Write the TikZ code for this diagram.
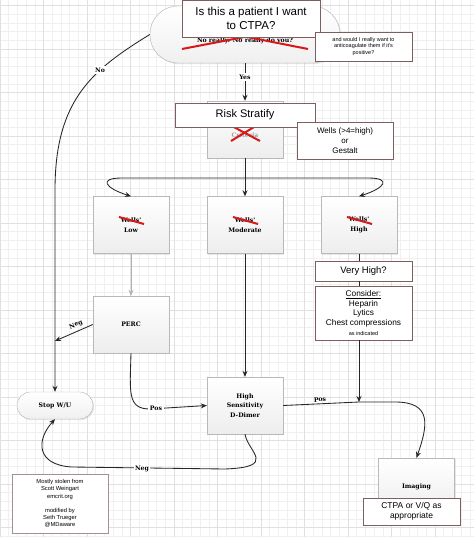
\documentclass[tikz,border=0pt]{standalone}
\usepackage{fontspec}
\setmainfont{Liberation Sans}
\newfontfamily\lblserif{DejaVu Serif}
\usetikzlibrary{arrows.meta,shadows,calc}
\definecolor{bord}{RGB}{125,95,95}
\definecolor{strikered}{RGB}{215,25,25}
\newcommand\lblfnt{\fontsize{6.2}{9.5}\selectfont\lblserif\bfseries}
\begin{document}
\begin{tikzpicture}[x=1pt,y=-1pt,
  gbox/.style={draw=gray!55, top color=white, bottom color=gray!14, minimum width=76pt, minimum height=57pt, inner sep=0pt, align=center, font=\lblfnt, drop shadow={opacity=0.18,shadow xshift=1.2pt,shadow yshift=-1.2pt}},
  pillbox/.style={draw=gray!60, top color=white, bottom color=gray!12, inner sep=0pt, align=center, font=\lblfnt, drop shadow={opacity=0.18,shadow xshift=1.2pt,shadow yshift=-1.2pt}},
  wbox/.style={draw=bord, fill=white, line width=0.8pt, align=center, inner sep=1pt},
  lab/.style={font=\lblfnt, inner sep=1.5pt},
  conn/.style={line width=0.85pt, draw=black!85, -{Stealth[length=6pt,width=5pt]}},
  plain/.style={line width=0.85pt, draw=black!85},
  redx/.style={draw=strikered, line width=2pt}
]
\useasboundingbox (0,0) rectangle (474,537);
\fill[white] (0,0) rectangle (474,537);
% grid
\foreach \i in {0,...,54} \draw[gray!12, line width=0.5pt] ({\i*8.7},0) -- ({\i*8.7},537);
\foreach \i in {0,...,61} \draw[gray!12, line width=0.5pt] (0,{5.5+\i*8.7}) -- (474,{5.5+\i*8.7});
\foreach \i in {0,...,10} \draw[gray!24, line width=0.5pt] ({\i*43.5},0) -- ({\i*43.5},537);
\foreach \i in {0,...,12} \draw[gray!24, line width=0.5pt] (0,{5.5+\i*43.5}) -- (474,{5.5+\i*43.5});

% top terminator
\node[pillbox, rounded corners=28pt, minimum width=190pt, minimum height=57pt] (pill) at (245,34.5) {};
\node[lab] (pilltxt) at (245,41) {No really. No really do you?};
\draw[redx] (182,49) -- (247,36.5);
\draw[redx] (237,35) -- (308,49);
\node[wbox, minimum width=138pt, minimum height=37pt, font=\fontsize{11.5}{13.5}\selectfont] (title) at (251,18.5) {Is this a patient I want\\to CTPA?};
\node[wbox, minimum width=97pt, minimum height=29pt, font=\fontsize{5.5}{6.8}\selectfont] (note) at (363.5,46.5) {and would I really want to\\anticoagulate them if it's\\positive?};

% risk stratify
\node[gbox] (crit) at (245,129.5) {};
\node[lab, text=gray!75] (crittxt) at (245,135) {Criteria};
\draw[redx] (230,125) -- (260,141);
\draw[redx] (231,141) -- (259,124);
\node[wbox, minimum width=140pt, minimum height=24pt, font=\fontsize{11}{13}\selectfont] (risk) at (245,115) {Risk Stratify};
\node[wbox, minimum width=96pt, minimum height=37pt, font=\fontsize{8}{10}\selectfont] (wells) at (345,140.5) {Wells (>4=high)\\or\\Gestalt};

\draw[conn] (pill.south) -- (crit.north);
\node[lab, fill=white] (yeslab) at (245,77) {Yes};

% three levels
\node[gbox] (low) at (131,225) {Wells'\\Low};
\node[gbox] (mod) at (245,225) {Wells'\\Moderate};
\node[gbox] (high) at (359,225) {Wells'\\High};
\foreach \n in {low,mod,high}
  \draw[redx] ($(\n.center)+(-12,-8)$) -- ($(\n.center)+(13,-1)$);

\coordinate (br) at (245,178);
\draw[plain] (crit.south) -- (br);
\draw[conn] (br) -- (mod.north);
\draw[conn] (br) -- (122,178) .. controls (98,178) and (105,188) .. (low.north);
\draw[conn] (br) -- (368,178) .. controls (392,178) and (385,188) .. (high.north);

% very high / consider
\node[wbox, minimum width=97pt, minimum height=20pt, font=\fontsize{9.5}{11}\selectfont] (vh) at (363.5,271) {Very High?};
\node[wbox, minimum width=97pt, minimum height=54pt, font=\fontsize{8.3}{9.6}\selectfont] (cons) at (363.5,313) {\underline{Consider:}\\Heparin\\Lytics\\Chest compressions\\{\fontsize{5.5}{7}\selectfont as indicated}};
\coordinate (joinpt) at (359,402);
\draw[plain] (high.south) -- (high.south |- vh.north);
\draw[plain] (high.south |- vh.south) -- (high.south |- cons.north);
\draw[conn] (high.south |- cons.south) -- (joinpt);

% PERC
\node[gbox] (perc) at (131,324.5) {PERC};
\draw[conn, draw=gray!60] (low.south) -- (perc.north);

% stop
\node[pillbox, rounded corners=13.5pt, minimum width=76pt, minimum height=27pt] (stop) at (55,405.5) {Stop W/U};
\draw[conn] (pill.west) .. controls (92,70) and (55,100) .. (55,190) -- (stop.north);
\node[lab, fill=white] (nolab) at (100,70) {No};

\coordinate (negpt) at (55,341);
\draw[conn] (perc.west) -- (negpt);
\node[lab, rotate=24] (neglab1) at (76,325) {Neg};

% D-dimer
\node[gbox] (dd) at (245,405.5) {High\\Sensitivity\\D-Dimer};
\draw[conn] (mod.south) -- (dd.north);
\draw[conn] (perc.south) .. controls (130,392) and (127,409) .. (150,409) -- (dd.west);
\node[lab, fill=white] (poslab1) at (156,408) {Pos};

% imaging
\node[gbox] (img) at (416.5,486.5) {Imaging};
\node[wbox, minimum width=97pt, minimum height=27pt, font=\fontsize{8.5}{10}\selectfont] (ctpa) at (411.5,511.5) {CTPA or V/Q as\\appropriate};
\draw[plain] (dd.east) -- (joinpt);
\draw[conn] (joinpt) -- (395,402) .. controls (432,402) and (428,425) .. (img.north);
\node[lab, rotate=3] (poslab2) at (320,399.5) {Pos};

% neg back to stop
\draw[conn] (dd.south) .. controls (248,452) and (278,467) .. (225,469) -- (72,467) .. controls (36,465) and (36,440) .. (stop.south);
\node[lab, fill=white] (neglab2) at (142,469) {Neg};

% credits
\node[wbox, draw=bord!70, minimum width=96pt, minimum height=59pt, font=\fontsize{5.8}{7.2}\selectfont] (cred) at (60,503.5) {Mostly stolen from\\Scott Weingart\\emcrit.org\\[7pt]modified by\\Seth Trueger\\@MDaware};
\end{tikzpicture}
\end{document}
